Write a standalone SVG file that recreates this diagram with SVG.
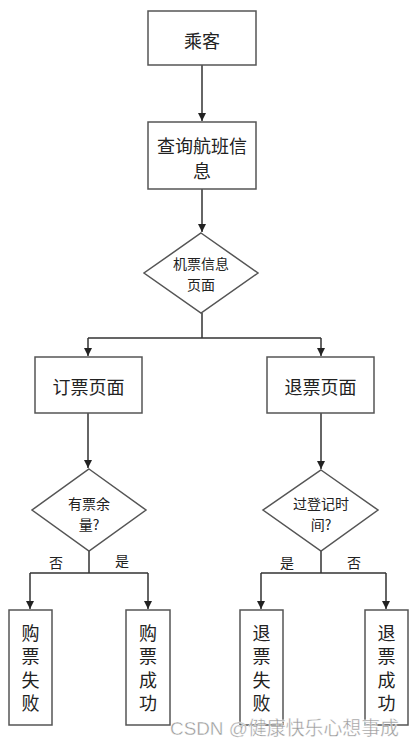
<svg xmlns="http://www.w3.org/2000/svg" width="418" height="745" viewBox="0 0 418 745">
<defs>
<marker id="arr" viewBox="0 0 10 10" refX="10" refY="5" markerWidth="8" markerHeight="8" markerUnits="userSpaceOnUse" orient="auto">
<path d="M0,0 L10,5 L0,10 z" fill="#222"/>
</marker>
<style>
.box{fill:#fff;stroke:#555;stroke-width:1.5}
.t{font-family:"Noto Sans CJK SC","Noto Sans",sans-serif;font-size:18px;fill:#222;text-anchor:middle;dominant-baseline:central}
.s{font-size:14px}
.v{writing-mode:vertical-rl;letter-spacing:5.5px}
.c{fill:none;stroke:#333;stroke-width:1.5}
.wm{font-family:"Liberation Sans","Noto Sans CJK SC",sans-serif;font-size:19px;fill:#9a9a9a;stroke:#fff;stroke-width:0.4;text-anchor:start;dominant-baseline:central}
</style>
</defs>
<rect width="418" height="745" fill="#fff"/>
<g id="connectors">
<path class="c" d="M202,65 V121" marker-end="url(#arr)"/>
<path class="c" d="M202,189 V232" marker-end="url(#arr)"/>
<path class="c" d="M202,313 V338 M88,338 H321"/>
<path class="c" d="M88,338 V356" marker-end="url(#arr)"/>
<path class="c" d="M321,338 V356" marker-end="url(#arr)"/>
<path class="c" d="M88,413 V468" marker-end="url(#arr)"/>
<path class="c" d="M321,413 V469" marker-end="url(#arr)"/>
<path class="c" d="M89,551 V573 M30,573 H148"/>
<path class="c" d="M30,573 V609" marker-end="url(#arr)"/>
<path class="c" d="M148,573 V609" marker-end="url(#arr)"/>
<path class="c" d="M321,551 V573 M261,573 H386"/>
<path class="c" d="M261,573 V609" marker-end="url(#arr)"/>
<path class="c" d="M386,573 V609" marker-end="url(#arr)"/>
<text class="t s" x="56" y="562">否</text>
<text class="t s" x="122" y="560">是</text>
<text class="t s" x="287" y="562">是</text>
<text class="t s" x="354" y="562">否</text>
</g>
<g id="n1"><rect class="box" x="148" y="11" width="108" height="54"/><text class="t" x="202" y="40">乘客</text></g>
<g id="n2"><rect class="box" x="148" y="122" width="108" height="67"/><text class="t" x="202" y="145">查询航班信</text><text class="t" x="202" y="170">息</text></g>
<g id="n3"><polygon class="box" points="201,233 258,273 201,313 144,273"/><text class="t s" x="201" y="263">机票信息</text><text class="t s" x="201" y="284">页面</text></g>
<g id="n4"><rect class="box" x="35" y="357" width="107" height="56"/><text class="t" x="88.5" y="386">订票页面</text></g>
<g id="n5"><rect class="box" x="267" y="357" width="107" height="56"/><text class="t" x="320.5" y="386">退票页面</text></g>
<g id="n6"><polygon class="box" points="89,469 146,510 89,551 32,510"/><text class="t s" x="89" y="503">有票余</text><text class="t s" x="89" y="524">量?</text></g>
<g id="n7"><polygon class="box" points="321,470 378,510 321,551 263,510"/><text class="t s" x="321" y="503">过登记时</text><text class="t s" x="321" y="524">间?</text></g>
<g id="n8"><rect class="box" x="9" y="610" width="43" height="115"/><text class="t v" x="30.5" y="671">购票失败</text></g>
<g id="n9"><rect class="box" x="126" y="610" width="44" height="115"/><text class="t v" x="148" y="671">购票成功</text></g>
<g id="n10"><rect class="box" x="240" y="610" width="43" height="115"/><text class="t v" x="261.5" y="671">退票失败</text></g>
<g id="n11"><rect class="box" x="365" y="610" width="43" height="115"/><text class="t v" x="386.5" y="671">退票成功</text></g>
<text class="wm" x="170" y="728" textLength="229" lengthAdjust="spacingAndGlyphs">CSDN @健康快乐心想事成</text>
</svg>
